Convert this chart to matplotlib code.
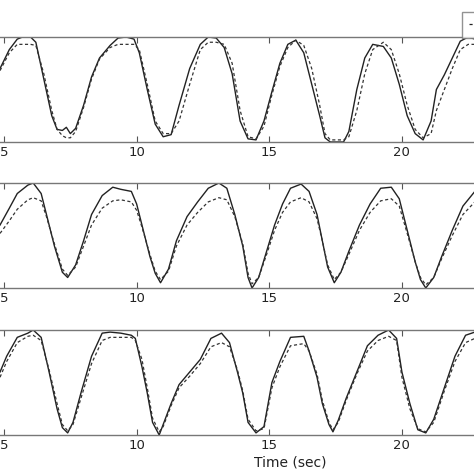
import matplotlib
matplotlib.use("Agg")
import matplotlib.pyplot as plt

t1 = [4.85,5.2,5.5,5.7,6.0,6.2,6.5,6.8,7.0,7.2,7.35,7.5,7.7,8.0,8.3,8.6,9.0,9.3,9.6,9.9,10.1,10.4,10.7,11.0,11.3,11.6,12.0,12.4,12.7,13.0,13.3,13.6,13.9,14.2,14.5,14.8,15.1,15.4,15.7,16.0,16.3,16.6,16.9,17.1,17.3,17.8,18.0,18.3,18.6,18.9,19.3,19.6,19.9,20.2,20.5,20.8,21.1,21.3,21.6,21.9,22.2,22.5,22.75]
s1 = [0.7,0.88,0.98,1.0,1.0,0.95,0.6,0.25,0.12,0.11,0.14,0.08,0.13,0.35,0.62,0.8,0.92,0.99,1.0,0.98,0.85,0.5,0.17,0.05,0.07,0.35,0.7,0.93,1.0,0.99,0.9,0.65,0.2,0.03,0.02,0.2,0.48,0.75,0.93,0.97,0.85,0.55,0.25,0.04,0.0,0.0,0.1,0.5,0.8,0.93,0.91,0.8,0.55,0.25,0.08,0.02,0.2,0.5,0.64,0.8,0.96,1.0,0.98]
d1 = [0.68,0.85,0.93,0.93,0.93,0.92,0.65,0.3,0.12,0.06,0.04,0.04,0.1,0.33,0.6,0.79,0.9,0.93,0.93,0.93,0.88,0.55,0.2,0.08,0.08,0.2,0.55,0.88,0.95,0.95,0.93,0.75,0.3,0.05,0.03,0.15,0.45,0.72,0.9,0.97,0.92,0.7,0.35,0.08,0.02,0.02,0.05,0.3,0.65,0.88,0.95,0.88,0.65,0.35,0.12,0.04,0.08,0.3,0.5,0.7,0.88,0.93,0.93]

t2 = [4.85,5.2,5.5,5.9,6.1,6.4,6.6,6.9,7.2,7.4,7.7,8.0,8.3,8.7,9.1,9.4,9.8,10.0,10.2,10.5,10.7,10.9,11.2,11.5,11.9,12.3,12.7,13.1,13.4,13.7,14.0,14.2,14.35,14.6,14.9,15.2,15.5,15.8,16.2,16.5,16.8,17.0,17.2,17.45,17.7,18.0,18.4,18.8,19.2,19.6,19.9,20.2,20.5,20.7,20.9,21.2,21.5,21.9,22.3,22.75]
s2 = [0.6,0.76,0.9,0.98,1.0,0.9,0.7,0.4,0.15,0.1,0.22,0.45,0.7,0.88,0.96,0.94,0.92,0.8,0.6,0.3,0.14,0.05,0.18,0.45,0.68,0.82,0.95,1.0,0.95,0.7,0.4,0.1,0.0,0.1,0.35,0.6,0.8,0.95,0.99,0.92,0.7,0.45,0.2,0.05,0.15,0.35,0.6,0.8,0.95,0.96,0.85,0.55,0.25,0.08,0.0,0.1,0.3,0.55,0.78,0.92]
d2 = [0.52,0.64,0.75,0.84,0.86,0.83,0.68,0.42,0.18,0.12,0.2,0.4,0.6,0.76,0.83,0.84,0.82,0.74,0.58,0.32,0.16,0.08,0.16,0.4,0.6,0.72,0.82,0.86,0.84,0.68,0.42,0.14,0.04,0.1,0.32,0.55,0.72,0.82,0.86,0.82,0.66,0.45,0.22,0.08,0.15,0.32,0.55,0.72,0.83,0.85,0.78,0.52,0.25,0.1,0.03,0.1,0.28,0.5,0.7,0.82]

t3 = [4.85,5.1,5.5,5.9,6.1,6.4,6.7,7.0,7.2,7.4,7.6,7.9,8.3,8.7,9.0,9.4,9.8,9.95,10.2,10.4,10.6,10.85,11.0,11.3,11.6,12.0,12.4,12.8,13.2,13.5,13.8,14.0,14.2,14.5,14.8,15.1,15.4,15.8,16.3,16.5,16.8,17.0,17.25,17.4,17.6,17.9,18.3,18.7,19.1,19.5,19.8,20.0,20.3,20.6,20.9,21.2,21.6,22.0,22.4,22.75]
s3 = [0.6,0.75,0.93,0.97,1.0,0.93,0.6,0.25,0.07,0.02,0.12,0.4,0.75,0.97,0.98,0.97,0.95,0.92,0.65,0.4,0.12,0.0,0.1,0.3,0.48,0.6,0.72,0.92,0.97,0.88,0.6,0.4,0.12,0.02,0.08,0.5,0.7,0.93,0.94,0.8,0.55,0.3,0.1,0.03,0.14,0.35,0.6,0.85,0.95,1.0,0.92,0.6,0.3,0.05,0.02,0.15,0.45,0.75,0.95,0.98]
d3 = [0.55,0.7,0.88,0.94,0.95,0.9,0.62,0.3,0.1,0.04,0.1,0.35,0.68,0.9,0.93,0.93,0.93,0.9,0.72,0.45,0.16,0.03,0.08,0.28,0.45,0.56,0.68,0.84,0.88,0.84,0.62,0.42,0.15,0.04,0.06,0.45,0.65,0.85,0.87,0.8,0.58,0.33,0.12,0.05,0.12,0.33,0.58,0.8,0.9,0.94,0.9,0.55,0.25,0.06,0.03,0.12,0.42,0.7,0.88,0.92]

xticks = [5, 10, 15, 20]
rows = [(t1, s1, d1), (t2, s2, d2), (t3, s3, d3)]
boxes = [(37, 142), (183, 288), (330, 435)]

fig = plt.figure(figsize=(4.74, 4.74), dpi=100)
W = 474.0
left_px, right_px = 4 - 0.5 * 26.5, 402 + 3.5 * 26.5
for (t, s, d), (top, bot) in zip(rows, boxes):
    ax = fig.add_axes([left_px / W, 1 - bot / W, (right_px - left_px) / W, (bot - top) / W])
    ax.plot(t, s, color="#222222", lw=1.0, solid_joinstyle="round")
    ax.plot(t, d, color="#333333", lw=0.9, ls=(0, (2.5, 2)), dash_joinstyle="round")
    ax.set_xlim(4.5, 23.5)
    ax.set_ylim(0, 1.0)
    ax.set_xticks(xticks)
    ax.set_xticklabels([str(v) for v in xticks], fontsize=9.5, color="#222222")
    ax.set_yticks([0, 1])
    ax.set_yticklabels([])
    ax.tick_params(direction="in", length=4, top=True, color="#555555", pad=3)
    for sp in ax.spines.values():
        sp.set_color("#777777")
        sp.set_linewidth(1.0)

fig.text(290 / W, 1 - 462 / W, "Time (sec)", fontsize=10, ha="center", va="center", color="#222222")
fig.legend(handles=[plt.Line2D([], [], color="#222222", lw=0.9, ls=(0, (2.5, 2)))], labels=["Model"],
           loc="upper left", bbox_to_anchor=(456 / W, 1 - 6 / W), fancybox=False,
           edgecolor="#777777", handlelength=2.0, fontsize=9, borderpad=0.5)
fig.savefig("out.png", dpi=100)
